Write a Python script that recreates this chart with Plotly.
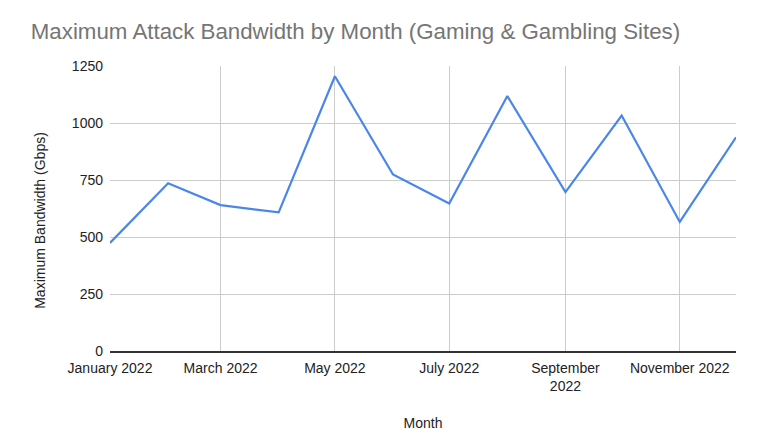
import plotly.graph_objects as go

months = ["2022-01-01", "2022-02-01", "2022-03-01", "2022-04-01", "2022-05-01", "2022-06-01",
          "2022-07-01", "2022-08-01", "2022-09-01", "2022-10-01", "2022-11-01", "2022-12-01"]
bandwidth = [474, 736, 640, 608, 1205, 774, 647, 1118, 697, 1033, 566, 937]

tick_dates = ["2022-01-01", "2022-03-01", "2022-05-01", "2022-07-01", "2022-09-01", "2022-11-01"]
tick_labels = ["January 2022", "March 2022", "May 2022", "July 2022", "September<br>2022", "November 2022"]

fig = go.Figure(go.Scatter(x=months, y=bandwidth, mode="lines",
                           line=dict(color="#4a86e8", width=2.2)))

# page has an 8px body margin, so the figure is sized a little smaller than the window
fig.update_layout(
    width=760, height=436,
    margin=dict(l=102, r=32, t=58, b=93, autoexpand=False),
    paper_bgcolor="white", plot_bgcolor="white",
    font=dict(family="Liberation Sans, Arial, sans-serif", size=14, color="#222222"),
    title=dict(text="Maximum Attack Bandwidth by Month (Gaming & Gambling Sites)",
               x=0.03, xanchor="left", y=0.947, yanchor="middle",
               font=dict(size=22.3, color="#757575")),
    showlegend=False,
)
fig.update_xaxes(
    type="date", range=["2022-01-01", "2022-12-01"],
    tickvals=tick_dates, ticktext=tick_labels,
    showgrid=True, gridcolor="#cccccc", gridwidth=1,
    showline=True, linecolor="#333333", linewidth=1.5,
    ticks="", ticklabelstandoff=3,
    title=dict(text="Month", standoff=25, font=dict(size=14, color="#222222")),
)
fig.update_yaxes(
    range=[0, 1250], tick0=0, dtick=250,
    showgrid=True, gridcolor="#cccccc", gridwidth=1,
    zeroline=False, ticks="", ticklabelstandoff=6,
)
# y title sits a bit below the plot centre in the original, so place it by hand
fig.add_annotation(text="Maximum Bandwidth (Gbps)", textangle=-90, showarrow=False,
                   xref="paper", yref="paper", x=-0.112, y=0.46,
                   xanchor="center", yanchor="middle",
                   font=dict(size=14, color="#222222"))

fig.write_html("out.html")
